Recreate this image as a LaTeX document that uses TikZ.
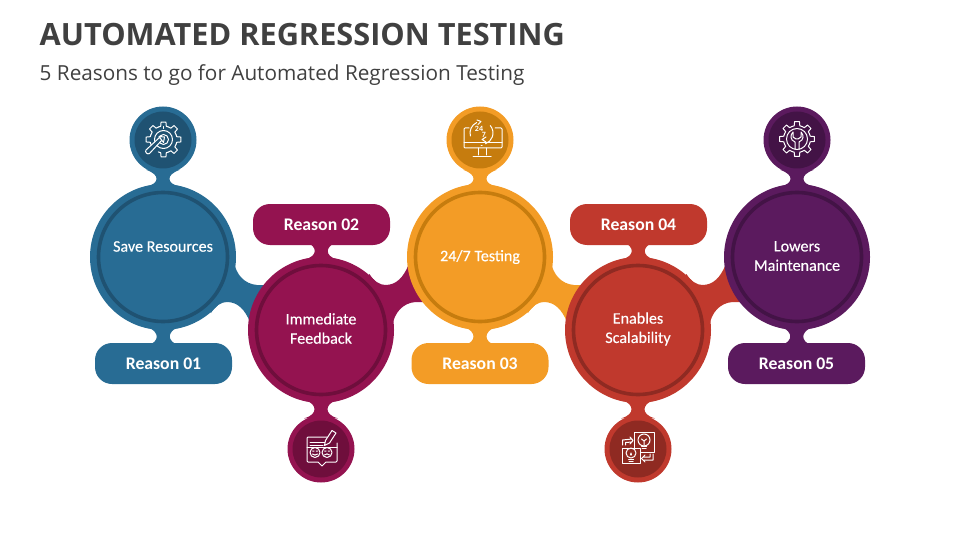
\documentclass[tikz,border=0pt]{standalone}
\usepackage{fontspec}
\setmainfont{Carlito}
\newfontfamily\titlefont{Open Sans}
\usetikzlibrary{calc,backgrounds}
\definecolor{cblue}{HTML}{286C94}\definecolor{dblue}{HTML}{1F5272}
\definecolor{cmag}{HTML}{941350}\definecolor{dmag}{HTML}{6F0E3C}
\definecolor{corg}{HTML}{F39C26}\definecolor{dorg}{HTML}{C67C0E}
\definecolor{cred}{HTML}{C0392D}\definecolor{dred}{HTML}{8F2A22}
\definecolor{cpur}{HTML}{5B1A5E}\definecolor{dpur}{HTML}{431346}
\definecolor{ink}{HTML}{404040}
\tikzset{
 bigc/.style={circle,inner sep=0pt,minimum size=146pt,fill=#1},
 smallc/.style={circle,inner sep=0pt,minimum size=67pt,fill=#1},
 pill/.style={rectangle,rounded corners=17pt,inner sep=0pt,minimum width=137pt,minimum height=41pt,fill=#1,text=white,font=\fontsize{17.7}{20}\selectfont\bfseries},
 label/.style={text=white,align=center,inner sep=0pt,font=\fontsize{16.1}{19.3}\selectfont\addfontfeature{FakeBold=0.25}},
 ico/.style={draw=white,line width=1pt,line join=round,line cap=round},
}
% neck between node #1 (upper) and node #2 (lower)
\newcommand\neck[3]{%
 \coordinate (m) at ($(#1.south)!.5!(#2.north)$);
 \fill[#3] ([shift={(-17,-4)}]#1.south) .. controls ([shift={(-9,-1)}]#1.south) and ([shift={(-6.5,-3)}]m) .. ([xshift=-6.5pt]m)
  .. controls ([shift={(-6.5,3)}]m) and ([shift={(-9,1)}]#2.north) .. ([shift={(-17,3)}]#2.north)
  -- ([shift={(17,3)}]#2.north) .. controls ([shift={(9,1)}]#2.north) and ([shift={(6.5,3)}]m) .. ([xshift=6.5pt]m)
  .. controls ([shift={(6.5,-3)}]m) and ([shift={(9,-1)}]#1.south) .. ([shift={(17,-4)}]#1.south) -- cycle;}
% band drawn for the blue-magenta pair, in that pair's coordinates
\newcommand\bandpath[2]{%
 (#1.center) -- (234,262) .. controls (236,274) and (244,284) .. (257,285) -- (272,285) -- (#2.center)
 -- (251,324) -- (250,322) .. controls (245,310) and (238,302) .. (227,302) .. controls (221,302) and (215,306) .. (211,313) -- cycle}
\newcommand\ring[2]{\draw[#2,line width=3.6pt] (#1) circle[radius=64.5];}
\newcommand\gearicon[3]{% r1 r2 skipped tooth
 \foreach \i in {0,...,7}{
  \pgfmathsetmacro\a{\i*45}
  \ifnum\i=#3\relax\else
  \draw[ico] (\a-22.5:#1) -- (\a-12:#1) -- (\a-8:#2) -- (\a+8:#2) -- (\a+12:#1) -- (\a+22.5:#1);
  \fi}}
\begin{document}
\begin{tikzpicture}[x=1pt,y=-1pt]
\useasboundingbox (0,0) rectangle (960,540);
\node[anchor=base west,text=ink,inner sep=0pt,font=\titlefont\fontsize{30.7}{36}\selectfont\bfseries] (title) at (39.5,45.7) {AUTOMATED REGRESSION TESTING};
\node[anchor=base west,text=ink,inner sep=0pt,font=\titlefont\fontsize{20.75}{24}\selectfont] (sub) at (39.5,80.7) {5 Reasons to go for Automated Regression Testing};
% main circles
\node[bigc=cblue] (c1) at (163,257) {};
\node[bigc=cmag] (c2) at (321,330) {};
\node[bigc=corg] (c3) at (480,257) {};
\node[bigc=cred] (c4) at (638,330) {};
\node[bigc=cpur] (c5) at (797,257) {};
\node[label] (t1) at (163,246.5) {Save Resources};
\node[label] (t2) at (321,328.5) {Immediate\\Feedback};
\node[label] (t3) at (480,257) {24/7 Testing};
\node[label] (t4) at (638,329) {Enables\\Scalability};
\node[label] (t5) at (797,256) {Lowers\\Maintenance};
\ring{c1}{dblue}\ring{c2}{dmag}\ring{c3}{dorg}\ring{c4}{dred}\ring{c5}{dpur}
% pills
\node[pill=cblue] (p1) at (163.5,363.5) {Reason 01};
\node[pill=cmag] (p2) at (321.5,224.5) {Reason 02};
\node[pill=corg] (p3) at (480,363.5) {Reason 03};
\node[pill=cred] (p4) at (638.5,224.5) {Reason 04};
\node[pill=cpur] (p5) at (796.5,363.5) {Reason 05};
% icon discs
\node[smallc=cblue] (s1) at (163,140) {};
\node[smallc=cmag] (s2) at (321,449) {};
\node[smallc=corg] (s3) at (480,140) {};
\node[smallc=cred] (s4) at (638,449) {};
\node[smallc=cpur] (s5) at (797,140) {};
\fill[dblue] (s1) circle[radius=28.5];
\fill[dmag] (s2) circle[radius=28.5];
\fill[dorg] (s3) circle[radius=28.5];
\fill[dred] (s4) circle[radius=28.5];
\fill[dpur] (s5) circle[radius=28.5];
\begin{pgfonlayer}{background}
 \neck{s1}{c1}{cblue}\neck{c1}{p1}{cblue}
 \neck{p2}{c2}{cmag}\neck{c2}{s2}{cmag}
 \neck{s3}{c3}{corg}\neck{c3}{p3}{corg}
 \neck{p4}{c4}{cred}\neck{c4}{s4}{cred}
 \neck{s5}{c5}{cpur}\neck{c5}{p5}{cpur}
 \fill[cblue] \bandpath{c1}{c2};
 \begin{scope}[shift={(158.5,587)},yscale=-1]\fill[cmag] \bandpath{c2}{c3};\end{scope}
 \begin{scope}[shift={(317,0)}]\fill[corg] \bandpath{c3}{c4};\end{scope}
 \begin{scope}[shift={(475.5,587)},yscale=-1]\fill[cred] \bandpath{c4}{c5};\end{scope}
\end{pgfonlayer}
% icon 1: gear, target, pencil
\begin{scope}[shift={(163.5,139.5)}]
 \gearicon{13.5}{17.5}{3}
 \draw[ico] (0,0) circle[radius=9];
 \draw[ico] (0,0) circle[radius=5];
 \draw[ico,fill=dblue] (-17.5,10.5) -- (-4,-2) -- (-1.5,0.5) -- (-14,14) .. controls (-16,15.5) and (-19,12.5) .. cycle;
 \draw[ico,fill=dblue] (-4.5,-3) -- (1,-2.5) -- (0,3) -- cycle;
 \draw[ico] (0,-13) -- (0,-11);
\end{scope}
% icon 2: monitor with 24/7
\begin{scope}[shift={(480,140)}]
 \draw[ico] (-11,-12) -- (-15,-12) -- (-16,-11) -- (-16,7) -- (-15,8) -- (21,8) -- (22,7) -- (22,-11) -- (21,-12) -- (15,-12);
 \draw[ico] (-16,3) -- (22,3);
 \draw[ico] (-2,8) -- (-2,15) (6,8) -- (6,15) (-7,16.5) -- (11,16.5);
 \draw[ico] (1,5.5) -- (2,5.5);
 \draw[ico] (1.5,-7) ++(165:11.5) arc[start angle=165,end angle=245,radius=11.5];
 \draw[ico] (1.5,-7) ++(-40:11.5) arc[start angle=-40,end angle=70,radius=11.5];
 \draw[ico] (-3,-20) -- (1,-18.5) -- (-2,-15.5);
 \draw[ico] (6,2) -- (2,-0.5) -- (6,-3);
 \node[text=white,inner sep=0pt,font=\fontsize{8}{8}\selectfont\bfseries] (i24) at (-1,-11) {24};
 \node[text=white,inner sep=0pt,font=\fontsize{8}{8}\selectfont\bfseries] (i7) at (4,-5) {7};
\end{scope}
% icon 3: gear, wrench
\begin{scope}[shift={(797,139)}]
 \gearicon{13.5}{17.5}{9}
 \draw[ico] (0,0) circle[radius=10.5];
 \draw[ico] (-2,10.5) -- (-2,3) .. controls (-7,1) and (-7,-4) .. (-4,-7) -- (-4,-2) -- (-1,0) -- (1,0) -- (4,-2) -- (4,-7) .. controls (7,-4) and (7,1) .. (2,3) -- (2,10.5);
\end{scope}
% icon 4: feedback card
\begin{scope}[shift={(321,449)}]
 \draw[ico] (6,-12) -- (-13,-12) -- (-14,-11) -- (-14,12) -- (-13,13) -- (-3,13) -- (1,17) -- (5,13) -- (15,13) -- (16,12) -- (16,-6);
 \draw[ico] (-11,-6.5) -- (4,-6.5) (-11,-4) -- (2,-4) (-14,-1.5) -- (16,-1.5);
 \draw[ico] (-6,3.5) circle[radius=5] (6,3.5) circle[radius=5];
 \draw[ico] (-8.5,2) -- (-7,2) (-5,2) -- (-3.5,2) (-8.5,5) .. controls (-7,6.5) and (-5,6.5) .. (-3.5,5);
 \draw[ico] (3.5,2) -- (5,2) (7,2) -- (8.5,2) (3.5,6) .. controls (5,4.5) and (7,4.5) .. (8.5,6);
 \draw[ico,fill=dmag] (3.5,-3.5) -- (4.5,-8.5) -- (11,-18.5) -- (15,-16) -- (8.5,-6) -- cycle;
\end{scope}
% icon 5: framed bulbs
\begin{scope}[shift={(638,449)}]
 \draw[ico,fill=dred] (-4,-16.5) rectangle (16,3);
 \draw[ico,fill=dred] (-16,-1) rectangle (2,14);
 \draw[ico] (6,-9) circle[radius=6];
 \draw[ico] (3.5,-2.5) -- (8.5,-2.5) (4,-0.5) -- (8,-0.5);
 \draw[ico] (3.5,-10) -- (6,-8) -- (8.5,-10) (6,-8) -- (6,-3);
 \draw[ico] (-7,4) circle[radius=5];
 \draw[ico] (-9.5,10) -- (-4.5,10) (-9,12) -- (-5,12);
 \draw[ico] (-7.5,6) -- (-7,4) -- (-6.5,6);
 \draw[ico] (-15.5,-4) -- (-15.5,-9) -- (-6,-10) (-12.5,-4) -- (-12.5,-6.5) -- (-6,-7) (-8,-12) -- (-5,-8.5) -- (-8,-5);
 \draw[ico] (5,11) -- (15,11) -- (15,5) (5,8) -- (12,8) -- (12,5) (7,6) -- (3.5,9.5) -- (7,13);
\end{scope}
\end{tikzpicture}
\end{document}
